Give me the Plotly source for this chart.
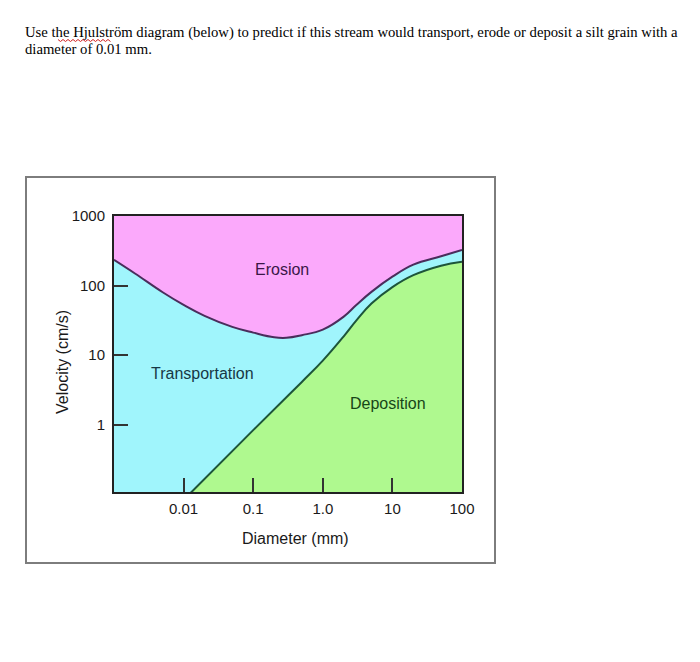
import numpy as np
import plotly.graph_objects as go

# ---- data ----
erosion_d = [0.001, 0.002, 0.005, 0.01, 0.02, 0.05, 0.1, 0.2, 0.3, 0.5, 1, 2, 3, 5, 10, 20, 50, 100]
erosion_v = [234, 149, 80, 52.6, 36.6, 25.4, 21, 18, 17.7, 19.3, 23.2, 35.7, 52, 81, 134, 200, 263, 324]

deposition_d = [0.006, 0.013, 0.1, 0.5, 1, 2, 3, 5, 10, 20, 50, 100]
deposition_v = [0.05, 0.107, 0.83, 4.1, 8.3, 18.6, 31, 55, 95, 141, 193, 220]

x_tick_vals = [0.01, 0.1, 1, 10, 100]
x_tick_text = ["0.01", "0.1", "1.0", "10", "100"]
y_tick_vals = [1, 10, 100, 1000]
y_tick_text = ["1", "10", "100", "1000"]

region_labels = ["Erosion", "Transportation", "Deposition"]
region_x = [0.257, 0.0188, 8.55]
region_y = [172, 5.47, 2.02]
region_colors = ["#3a1747", "#173845", "#174617"]

question = ["Use the Hjulström diagram (below) to predict if this stream would transport, erode or deposit a silt grain with a",
            "diameter of 0.01 mm."]

x_range = [0.001, 100]
y_range = [0.107, 1000]

PINK = "#fba9fb"
CYAN = "#a0f5fc"
GREEN = "#aff98f"

# layout geometry (pixels); the page places the figure 8 px in from the corner
OFF = 8
W, H = 700 - OFF, 662 - OFF
L, T = 114 - OFF, 216 - OFF
pw, ph = 348, 276
R, B = W - L - pw, H - T - ph


def px(x):
    return (x - OFF - L) / pw


def py(y):
    return (T + ph - (y - OFF)) / ph


SANS = "Liberation Sans, Arial"

fig = go.Figure()
# top boundary (invisible) -> erosion curve fill pink above
fig.add_trace(go.Scatter(x=[x_range[0], x_range[1]], y=[1e4, 1e4], mode="lines",
                         line=dict(width=0, color=PINK), hoverinfo="skip", showlegend=False))
fig.add_trace(go.Scatter(x=erosion_d, y=erosion_v, mode="lines", fill="tonexty", fillcolor=PINK,
                         line=dict(color="#4a2d5c", width=2, shape="spline", smoothing=1.2),
                         showlegend=False))
# bottom boundary (invisible) -> deposition curve fill green below
fig.add_trace(go.Scatter(x=[0.001, x_range[1]], y=[0.01, 0.01], mode="lines",
                         line=dict(width=0, color=GREEN), hoverinfo="skip", showlegend=False))
fig.add_trace(go.Scatter(x=deposition_d, y=deposition_v, mode="lines", fill="tonexty", fillcolor=GREEN,
                         line=dict(color="#1d553a", width=2, shape="spline", smoothing=1.2),
                         showlegend=False))

for t, xv, yv, c in zip(region_labels, region_x, region_y, region_colors):
    fig.add_annotation(x=np.log10(xv), y=np.log10(yv), text=t, showarrow=False,
                       font=dict(family=SANS, size=16, color=c))

# question text
for i, line in enumerate(question):
    fig.add_annotation(xref="paper", yref="paper", x=px(23), y=py(32.5 + 16 * i), text=line,
                       showarrow=False, xanchor="left", yanchor="middle",
                       font=dict(family="Liberation Serif, Times New Roman", size=14.7, color="#000"))

# spell-check squiggle under the word "Hjulström"
sq_x = np.arange(58, 113, 2.5)
sq_y = np.where(np.arange(len(sq_x)) % 2 == 0, 39.5, 41.5)
path = "M " + " L ".join(f"{px(a):.5f},{py(b):.5f}" for a, b in zip(sq_x, sq_y))
fig.add_shape(type="path", xref="paper", yref="paper", path=path,
              line=dict(color="#d02020", width=1))

# axis titles
fig.add_annotation(xref="paper", yref="paper", x=px(295), y=py(538), text="Diameter (mm)",
                   showarrow=False, xanchor="center", yanchor="middle",
                   font=dict(family=SANS, size=16, color="#1a1a1a"))
fig.add_annotation(xref="paper", yref="paper", x=px(62), y=py(362), text="Velocity (cm/s)",
                   textangle=-90, showarrow=False, xanchor="center", yanchor="middle",
                   font=dict(family=SANS, size=16, color="#1a1a1a"))

# outer frame
fig.add_shape(type="rect", xref="paper", yref="paper", x0=px(26), x1=px(495), y0=py(563), y1=py(177),
              line=dict(color="#7d7d7d", width=2), layer="below")

fig.update_xaxes(type="log", range=[np.log10(x_range[0]), np.log10(x_range[1])],
                 tickvals=x_tick_vals, ticktext=x_tick_text, ticks="inside", ticklen=14,
                 tickwidth=2, tickcolor="#333", showline=True, linecolor="#222", linewidth=2,
                 mirror=True, showgrid=False, zeroline=False, ticklabelstandoff=2,
                 tickfont=dict(family=SANS, size=15, color="#1a1a1a"))
fig.update_yaxes(type="log", range=[np.log10(y_range[0]), np.log10(y_range[1])],
                 tickvals=y_tick_vals, ticktext=y_tick_text, ticks="inside", ticklen=14,
                 tickwidth=2, tickcolor="#333", showline=True, linecolor="#222", linewidth=2,
                 mirror=True, showgrid=False, zeroline=False, ticklabelstandoff=4,
                 tickfont=dict(family=SANS, size=15, color="#1a1a1a"))

fig.update_layout(width=W, height=H, margin=dict(l=L, r=R, t=T, b=B, pad=0),
                  paper_bgcolor="white", plot_bgcolor=CYAN, showlegend=False)

fig.write_html("out.html")
